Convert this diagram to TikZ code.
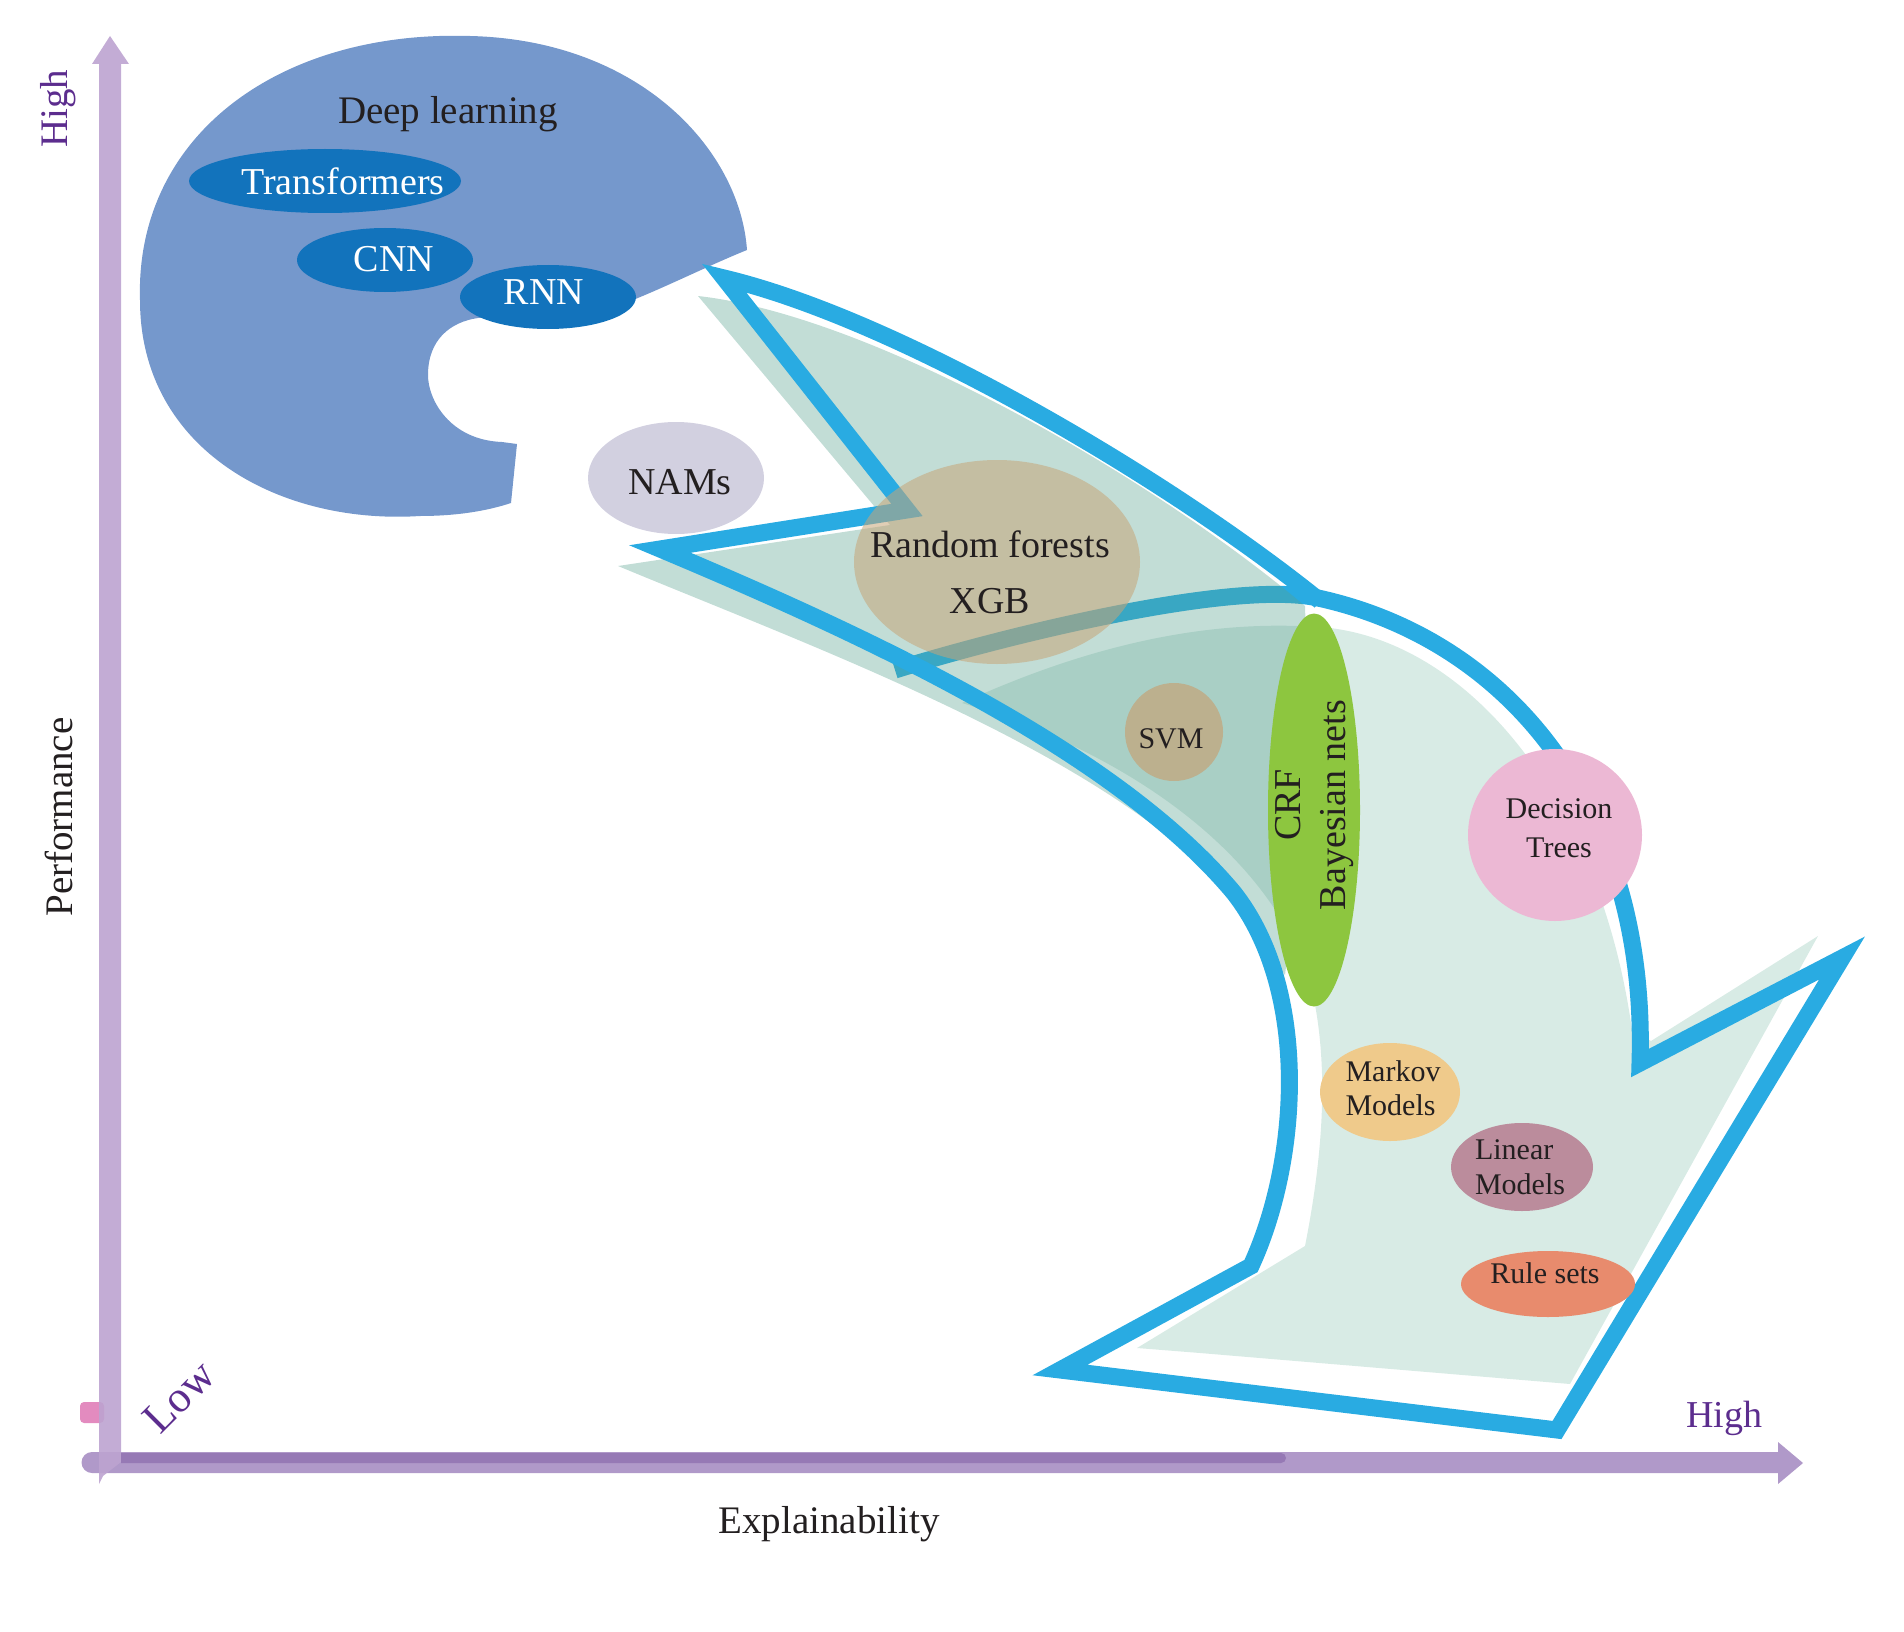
\documentclass[tikz,border=0pt]{standalone}
\usepackage{fontspec}
\setmainfont{Liberation Serif}
\usetikzlibrary{shapes.geometric}
\definecolor{blobc}{RGB}{117,152,204}
\definecolor{dlc}{RGB}{18,115,188}
\definecolor{outc}{RGB}{41,171,226}
\definecolor{tealc}{RGB}{86,160,141}
\definecolor{fillbc}{RGB}{216,235,229}
\definecolor{namc}{RGB}{210,208,224}
\definecolor{rfc}{RGB}{198,165,120}
\definecolor{svmc}{RGB}{188,176,142}
\definecolor{crfc}{RGB}{141,198,63}
\definecolor{dtc}{RGB}{236,184,212}
\definecolor{mkc}{RGB}{239,202,139}
\definecolor{lnc}{RGB}{187,140,156}
\definecolor{rsc}{RGB}{232,139,109}
\definecolor{txtc}{RGB}{35,31,32}
\definecolor{purc}{RGB}{92,45,142}
\definecolor{yaxc}{RGB}{189,163,208}
\definecolor{xaxc}{RGB}{176,153,201}
\definecolor{xdkc}{RGB}{150,121,181}
\definecolor{pinkc}{RGB}{227,139,191}
\begin{document}
\begin{tikzpicture}[x=1pt,y=-1pt,
  oval/.style={ellipse, inner sep=0pt, draw=none},
  txt/.style={inner sep=0pt, text=txtc, font=\fontsize{38}{46}\selectfont},
  stxt/.style={inner sep=0pt, text=txtc, font=\fontsize{30}{34}\selectfont},
  wtxt/.style={inner sep=0pt, text=white, font=\fontsize{38}{46}\selectfont},
  ptxt/.style={inner sep=0pt, text=purc, font=\fontsize{39}{46}\selectfont},
  band/.style={draw=outc, line width=17pt, line join=miter, miter limit=10},
]
\useasboundingbox (0,0) rectangle (1904,1632);

% ---------- axes ----------
\fill[pinkc, rounded corners=4pt] (80,1423) -- (80,1402) -- (104,1402) -- (104,1423) -- cycle;
\fill[xaxc] (92,1452) -- (1778,1452) -- (1778,1442) -- (1803,1463) -- (1778,1484) -- (1778,1473) -- (92,1473) arc[start angle=90, end angle=270, radius=10.5] -- cycle;
\fill[yaxc, opacity=0.9] (99,1484) -- (99,64) -- (92,64) -- (110,36) -- (129,64) -- (121,64) -- (121,1462) -- (103,1476) -- cycle;
\fill[xdkc] (121,1453) -- (1281,1453) arc[start angle=270, end angle=450, radius=5] -- (121,1463) -- cycle;

\node[ptxt, rotate=90] (yhigh) at (58,109) {High};
\node[txt, rotate=90, font=\fontsize{39}{46}\selectfont] (perf) at (59,817) {Performance};
\node[ptxt, font=\fontsize{38}{46}\selectfont] (xhigh) at (1724,1418) {High};
\node[ptxt, rotate=45, font=\fontsize{44}{50}\selectfont] (low) at (179,1397) {Low};
\node[txt, font=\fontsize{39}{46}\selectfont] (expl) at (829,1524) {Explainability};

% ---------- deep learning blob ----------
\fill[blobc] (747,250) .. controls (740,150) and (640,40) .. (470,36)
  .. controls (280,30) and (135,135) .. (140,300)
  .. controls (140,450) and (280,525) .. (420,516)
  .. controls (460,516) and (490,510) .. (511,503)
  -- (517,444) -- (502,442)
  .. controls (450,440) and (428,400) .. (428,375)
  .. controls (428,340) and (450,322) .. (478,318)
  .. controls (540,312) and (600,310) .. (633,300)
  .. controls (670,285) and (710,265) .. (747,250) -- cycle;

\node[txt, font=\fontsize{39}{46}\selectfont] (dl) at (448,114) {Deep learning};
\node[oval, fill=dlc, minimum width=272pt, minimum height=64pt] (tr) at (325,181) {};
\node[wtxt] (trt) at (343,181) {Transformers};
\node[oval, fill=dlc, minimum width=176pt, minimum height=64pt] (cnn) at (385,260) {};
\node[wtxt] (cnnt) at (394,259) {CNN};
\node[oval, fill=dlc, minimum width=176pt, minimum height=64pt] (rnn) at (548,297) {};
\node[wtxt] (rnnt) at (544,292) {RNN};

\node[oval, fill=namc, minimum width=176pt, minimum height=112pt] (nam) at (676,478) {};
\node[txt] (namt) at (680,482) {NAMs};

% ---------- lower big arrow fill ----------
\fill[fillbc] (962,703) .. controls (1100,640) and (1220,618) .. (1330,628)
  .. controls (1470,645) and (1600,800) .. (1632,1030)
  -- (1651,1041) -- (1818,936) -- (1570,1384) -- (1200,1353) -- (1137,1348) -- (1305,1246)
  .. controls (1322,1160) and (1330,1070) .. (1312,990)
  .. controls (1280,870) and (1150,760) .. (962,703) -- cycle;

% arc of the lower arrow that lies under the upper fill
\draw[band, line cap=butt] (1318,598) .. controls (1230,579) and (994,639) .. (895,670);

% ---------- upper arrow fill ----------
\fill[tealc, opacity=0.36] (698,296) .. controls (870,315) and (1150,475) .. (1305,606)
  -- (1308,700) -- (1300,850) -- (1285,975) -- (1232,897)
  .. controls (1110,755) and (820,650) .. (618,566)
  -- (890,525) -- cycle;

% ---------- outline ----------
\draw[band] (1320,601) .. controls (1170,480) and (900,320) .. (724,278)
  -- (907,510) -- (660,549)
  .. controls (860,633) and (1114,749) .. (1234,893)
  .. controls (1310,990) and (1300,1160) .. (1251,1266)
  -- (1060,1370) -- (1557,1430) -- (1842,958) -- (1640,1063)
  .. controls (1648,810) and (1510,640) .. (1318,598);

% ---------- model ovals ----------
\node[oval, fill=rfc, opacity=0.55, minimum width=286pt, minimum height=204pt] (rf) at (997,562) {};
\node[txt, align=center, font=\fontsize{38}{56}\selectfont] (rft) at (990,572) {Random forests\\XGB};
\node[oval, fill=svmc, minimum width=98pt, minimum height=98pt] (svm) at (1174,732) {};
\node[stxt] (svmt) at (1171,739) {SVM};
\node[oval, fill=crfc, minimum width=92pt, minimum height=393pt] (crf) at (1314,810) {};
\node[txt, rotate=90, align=center, font=\fontsize{38}{45}\selectfont] (crft) at (1315,805) {CRF\\Bayesian nets};
\node[oval, fill=dtc, minimum width=174pt, minimum height=172pt] (dt) at (1555,835) {};
\node[stxt, align=center, font=\fontsize{30}{39}\selectfont] (dtt) at (1559,828) {Decision\\Trees};
\node[oval, fill=mkc, minimum width=140pt, minimum height=98pt] (mk) at (1390,1092) {};
\node[stxt, align=left] (mkt) at (1393,1088) {Markov\\Models};
\node[oval, fill=lnc, minimum width=142pt, minimum height=88pt] (ln) at (1522,1167) {};
\node[stxt, align=left, font=\fontsize{30}{35}\selectfont] (lnt) at (1520,1167) {Linear\\Models};
\node[oval, fill=rsc, minimum width=174pt, minimum height=66pt] (rs) at (1548,1284) {};
\node[stxt] (rst) at (1545,1273) {Rule sets};
\end{tikzpicture}
\end{document}
